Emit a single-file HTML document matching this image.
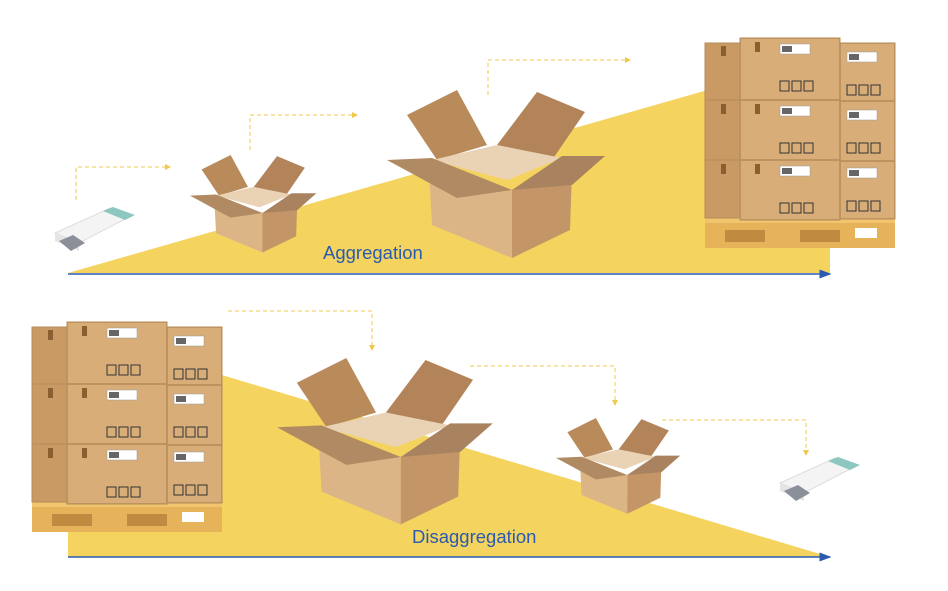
<!DOCTYPE html>
<html><head><meta charset="utf-8"><style>
html,body{margin:0;padding:0;background:#fff;width:948px;height:591px;overflow:hidden}
svg{display:block}
text{font-family:"Liberation Sans",sans-serif}
</style></head><body>
<svg width="948" height="591" viewBox="0 0 948 591" xmlns="http://www.w3.org/2000/svg">
<defs>
<marker id="ar" markerWidth="6" markerHeight="6" refX="5" refY="3" orient="auto"><path d="M0,0 L6,3 L0,6 z" fill="#f0c94a"/></marker>
<marker id="bl" markerWidth="8" markerHeight="6" refX="7" refY="3" orient="auto"><path d="M0,0 L8,3 L0,6 z" fill="#2a5bb0"/></marker>
<g id="openbox">
  <polygon points="20,25 70,0 100,55 50,70" fill="#b98a5a"/>
  <polygon points="110,55 150,2 198,22 165,70" fill="#b3845a"/>
  <polygon points="45,70 110,55 175,68 120,90" fill="#ead2b5"/>
  <polygon points="42,80 125,100 125,168 45,135" fill="#dcb587"/>
  <polygon points="125,100 185,80 183,140 125,168" fill="#c49566"/>
  <polygon points="0,70 45,68 125,100 70,108" fill="#b08a62"/>
  <polygon points="125,100 175,66 218,66 185,95" fill="#a98360"/>
</g>
<g id="lbl"><rect x="0" y="0" width="30" height="10" fill="#fff" stroke="#999" stroke-width="0.5"/><rect x="2" y="2" width="10" height="6" fill="#666"/></g>
<g id="icons"><rect x="0" y="0" width="9" height="10" fill="none" stroke="#333"/><rect x="12" y="0" width="9" height="10" fill="none" stroke="#333"/><rect x="24" y="0" width="9" height="10" fill="none" stroke="#333"/></g>
<g id="pallet">
  <rect x="0" y="180" width="190" height="30" fill="#e7b35a"/>
  <rect x="0" y="180" width="190" height="5" fill="#f0c56e"/>
  <rect x="20" y="192" width="40" height="12" fill="#c08a40"/>
  <rect x="95" y="192" width="40" height="12" fill="#c08a40"/>
  <rect x="150" y="190" width="22" height="10" fill="#fff"/>
  <g fill="#c99a64" stroke="#b58c5a" stroke-width="1">
    <rect x="0" y="5" width="35" height="57"/><rect x="35" y="0" width="100" height="62"/><rect x="135" y="5" width="55" height="58"/>
    <rect x="0" y="62" width="35" height="60"/><rect x="35" y="62" width="100" height="60"/><rect x="135" y="63" width="55" height="60"/>
    <rect x="0" y="122" width="35" height="58"/><rect x="35" y="122" width="100" height="60"/><rect x="135" y="123" width="55" height="58"/>
  </g>
  <g fill="#d8ad78"><rect x="36" y="1" width="98" height="60"/><rect x="36" y="63" width="98" height="58"/><rect x="36" y="123" width="98" height="58"/><rect x="136" y="6" width="53" height="56"/><rect x="136" y="64" width="53" height="58"/><rect x="136" y="124" width="53" height="56"/></g>
  <g fill="#8a6030"><rect x="16" y="8" width="5" height="10"/><rect x="50" y="4" width="5" height="10"/><rect x="16" y="66" width="5" height="10"/><rect x="50" y="66" width="5" height="10"/><rect x="16" y="126" width="5" height="10"/><rect x="50" y="126" width="5" height="10"/></g>
  <use href="#lbl" x="75" y="6"/><use href="#lbl" x="142" y="14"/><use href="#lbl" x="75" y="68"/><use href="#lbl" x="142" y="72"/><use href="#lbl" x="75" y="128"/><use href="#lbl" x="142" y="130"/>
  <use href="#icons" x="75" y="43"/><use href="#icons" x="142" y="47"/><use href="#icons" x="75" y="105"/><use href="#icons" x="142" y="105"/><use href="#icons" x="75" y="165"/><use href="#icons" x="142" y="163"/>
</g>
<g id="pill">
  <polygon points="0,28 55,3 78,10 24,38" fill="#f4f4f4" stroke="#ddd"/>
  <polygon points="48,6 58,2 80,10 70,15" fill="#8cc7c0"/>
  <polygon points="0,28 24,38 24,46 0,36" fill="#e4e4e4"/>
  <polygon points="4,36 18,30 30,38 16,46" fill="#8a8f99"/>
</g>
</defs>

<polygon points="68,273 830,55 830,273" fill="#f4d35e"/>
<polygon points="68,329 830,557 68,557" fill="#f4d35e"/>
<line x1="68" y1="274" x2="830" y2="274" stroke="#2a5bb0" stroke-width="1.5" marker-end="url(#bl)"/>
<line x1="68" y1="557" x2="830" y2="557" stroke="#2a5bb0" stroke-width="1.5" marker-end="url(#bl)"/>

<g fill="none" stroke="#f0c94a" stroke-width="1" stroke-dasharray="4,3">
<polyline points="76,200 76,167 170,167" marker-end="url(#ar)"/>
<polyline points="250,150 250,115 357,115" marker-end="url(#ar)"/>
<polyline points="488,95 488,60 630,60" marker-end="url(#ar)"/>
<polyline points="228,311 372,311 372,350" marker-end="url(#ar)"/>
<polyline points="470,366 615,366 615,405" marker-end="url(#ar)"/>
<polyline points="662,420 806,420 806,455" marker-end="url(#ar)"/>
</g>

<use href="#pill" x="55" y="205"/>
<use href="#pill" x="780" y="455"/>
<use href="#openbox" transform="translate(190,155) scale(0.58)"/>
<use href="#openbox" transform="translate(387,90)"/>
<use href="#openbox" transform="translate(277,358) scale(0.99)"/>
<use href="#openbox" transform="translate(556,418) scale(0.57)"/>
<use href="#pallet" x="705" y="38"/>
<use href="#pallet" x="32" y="322"/>

<text x="323" y="259" font-size="18.5" fill="#2a5bb0">Aggregation</text>
<text x="412" y="543" font-size="18.5" fill="#2a5bb0">Disaggregation</text>
</svg>
</body></html>
